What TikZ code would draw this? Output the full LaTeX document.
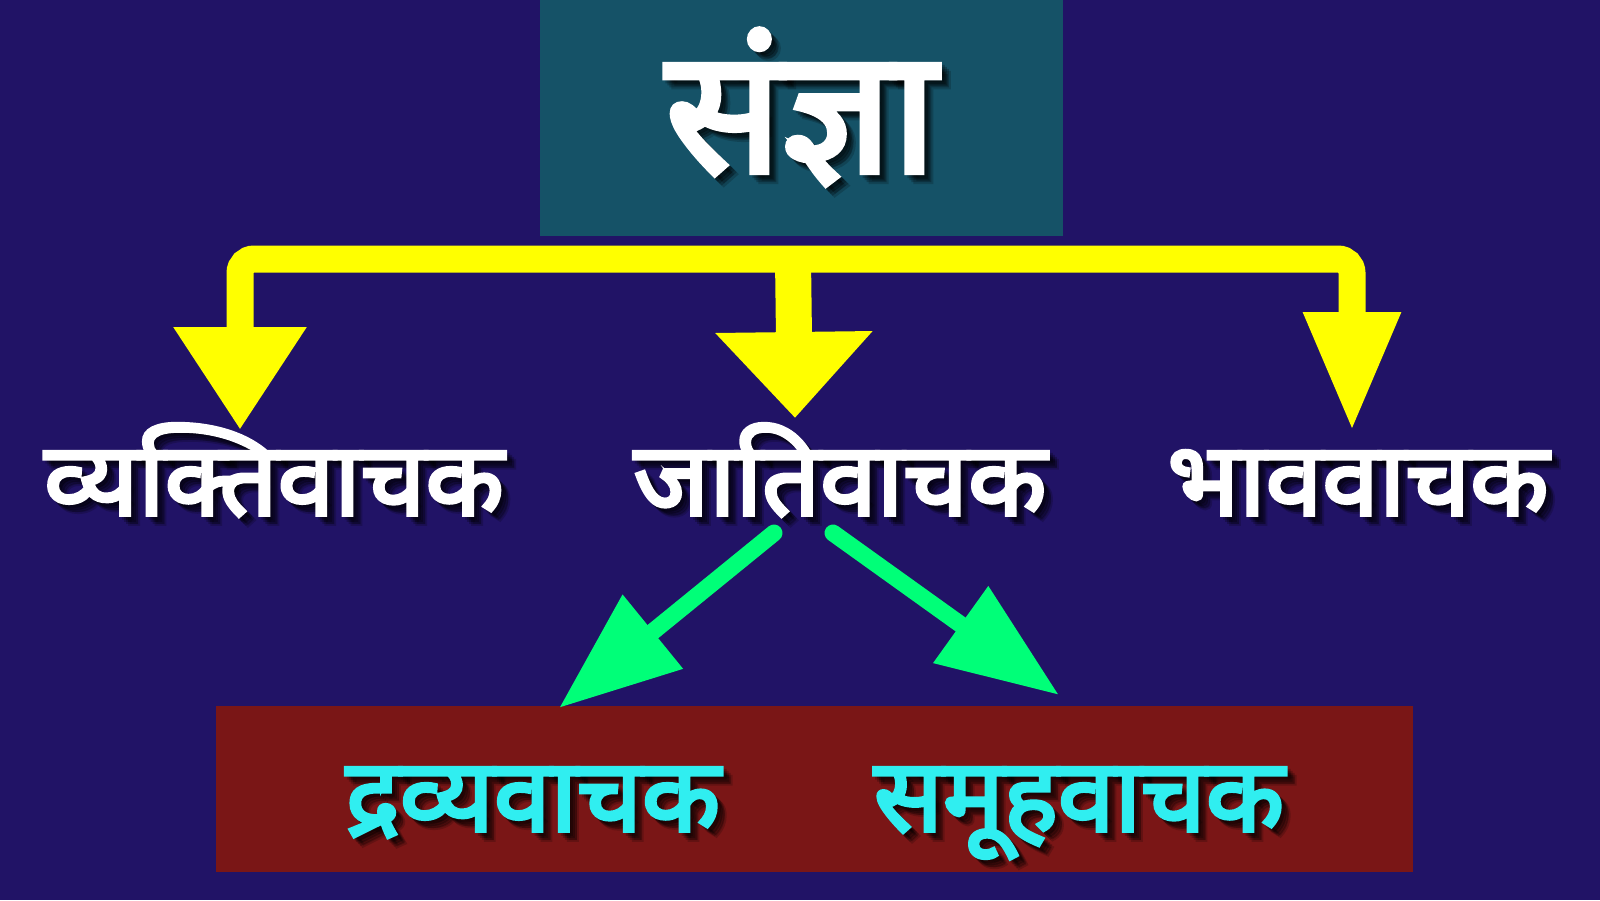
\documentclass[tikz,border=0pt]{standalone}
\usepackage{fontspec}
\newfontfamily\deva[Script=Devanagari, FakeBold=3.5]{Noto Sans}
\usetikzlibrary{arrows.meta,calc}
\definecolor{bgc}{HTML}{211366}
\definecolor{teal}{HTML}{155267}
\definecolor{boxred}{HTML}{7A1616}
\definecolor{yel}{HTML}{FFFF00}
\definecolor{grn}{HTML}{00FF78}
\definecolor{cyn}{HTML}{30EEF0}
\tikzset{
  lbl/.style={font=\deva\fontsize{102}{120}\selectfont, anchor=base, inner sep=0pt},
  ttl/.style={font=\deva\fontsize{172}{200}\selectfont, anchor=base, inner sep=0pt},
  ybar/.style={draw=yel, line width=27pt, rounded corners=14pt},
  gline/.style={draw=grn, line width=17pt, line cap=round},
}
\newcommand\ShadowLabel[5]{%
  \node[#5, text=black, opacity=0.22] (#1s1) at ($(#2)+(3,3)$) {#4};
  \node[#5, text=black, opacity=0.22] (#1s2) at ($(#2)+(5,5)$) {#4};
  \node[#5, text=black, opacity=0.22] (#1s3) at ($(#2)+(7,7)$) {#4};
  \node[#5, text=black, opacity=0.18] (#1s4) at ($(#2)+(9,9)$) {#4};
  \node[#5, text=#3] (#1) at (#2) {#4};}
\begin{document}
\begin{tikzpicture}[x=1pt,y=-1pt]
\fill[bgc] (0,0) rectangle (1600,900);
\useasboundingbox (0,0) rectangle (1600,900);
% boxes
\node[fill=teal, minimum width=523pt, minimum height=236pt, inner sep=0pt] (root) at (801.5,118) {};
\node[fill=boxred, minimum width=1197pt, minimum height=166pt, inner sep=0pt] (sub) at (814.5,789) {};
% label positions
\coordinate (p0) at (801,172);
\coordinate (p1) at (274,515);
\coordinate (p2) at (840,515);
\coordinate (p3) at (1358,515);
\coordinate (p4) at (533,831);
\coordinate (p5) at (1079,831);
\ShadowLabel{title}{p0}{white}{संज्ञा}{ttl}
\ShadowLabel{vyakti}{p1}{white}{व्यक्तिवाचक}{lbl}
\ShadowLabel{jati}{p2}{white}{जातिवाचक}{lbl}
\ShadowLabel{bhav}{p3}{white}{भाववाचक}{lbl}
\ShadowLabel{dravya}{p4}{cyn}{द्रव्यवाचक}{lbl}
\ShadowLabel{samuh}{p5}{cyn}{समूहवाचक}{lbl}
% yellow connectors
\coordinate (t1) at (240,430);
\coordinate (t2) at (795,418);
\coordinate (t3) at (1352,432);
\coordinate (rc) at (1352,259);
\coordinate (mc) at (793,259);
\draw[ybar, {Triangle[length=103pt,width=126pt]}-{Triangle[length=120pt,width=90pt]}] (t1) |- (rc) -- (t3);
\draw[ybar, line width=36pt, -{Triangle[length=86pt,width=152pt]}] (mc) -- (t2);
% green connectors
\coordinate (g1s) at (774,533);
\coordinate (g1e) at (559,708);
\coordinate (g2s) at (833,533);
\coordinate (g2e) at (1059,695);
\draw[gline, -{Triangle[length=121pt,width=91pt]}] (g1s) -- (g1e);
\draw[gline, -{Triangle[length=121pt,width=90pt]}] (g2s) -- (g2e);
\end{tikzpicture}
\end{document}
